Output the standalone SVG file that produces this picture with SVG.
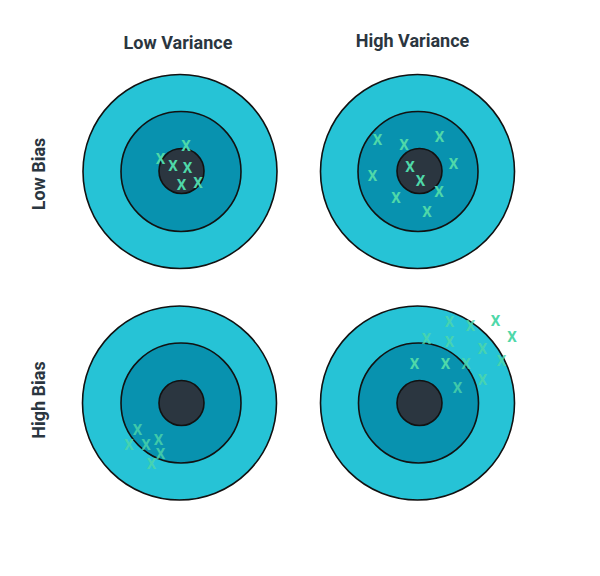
<svg xmlns="http://www.w3.org/2000/svg" width="600" height="576" viewBox="0 0 600 576">
<style>
.outer{fill:#26C3D6;stroke:#111;stroke-width:1.6}
.mid{fill:#0892AF;stroke:#111;stroke-width:1.6}
.inner{fill:#2B3640;stroke:#111;stroke-width:1.6}
.lbl{font-family:Roboto,"Liberation Sans",sans-serif;font-weight:700;font-size:18px;fill:#2B3640}
.x{font-family:Roboto,"Liberation Sans",sans-serif;font-weight:700;font-size:15px;fill:#4FD8A9;text-anchor:middle}
.f{opacity:0.78}
</style>
<rect width="600" height="576" fill="#fff"/>
<g id="labels">
<text class="lbl" x="178" y="49" text-anchor="middle">Low Variance</text>
<text class="lbl" x="412.5" y="47" text-anchor="middle">High Variance</text>
<text class="lbl" transform="translate(45,174) rotate(-90)" text-anchor="middle">Low Bias</text>
<text class="lbl" transform="translate(45,400) rotate(-90)" text-anchor="middle">High Bias</text>
</g>
<g id="target-low-bias-low-variance">
<circle class="outer" cx="180" cy="171.5" r="97"/>
<circle class="mid" cx="181" cy="171.5" r="60"/>
<circle class="inner" cx="181.5" cy="171" r="22.5"/>
<text class="x" x="186" y="150.5">X</text>
<text class="x" x="160.5" y="163.5">X</text>
<text class="x" x="173" y="170.5">X</text>
<text class="x" x="187.5" y="172.5">X</text>
<text class="x" x="181.5" y="189.5">X</text>
<text class="x" x="198" y="188">X</text>
</g>
<g id="target-low-bias-high-variance">
<circle class="outer" cx="417.5" cy="171.5" r="97"/>
<circle class="mid" cx="418" cy="171.5" r="60"/>
<circle class="inner" cx="419.5" cy="171" r="22.5"/>
<text class="x" x="377.5" y="144.5">X</text>
<text class="x" x="404" y="149.5">X</text>
<text class="x" x="439.5" y="141.5">X</text>
<text class="x" x="453.5" y="168.5">X</text>
<text class="x" x="372.5" y="180.5">X</text>
<text class="x" x="410" y="172">X</text>
<text class="x" x="420.5" y="185.5">X</text>
<text class="x" x="439" y="197">X</text>
<text class="x" x="396" y="202.5">X</text>
<text class="x" x="427" y="216.5">X</text>
</g>
<g id="target-high-bias-low-variance">
<circle class="outer" cx="179.5" cy="403" r="97"/>
<circle class="mid" cx="181" cy="403" r="60"/>
<circle class="inner" cx="181.5" cy="403" r="22.5"/>
<g class="f">
<text class="x" x="137.5" y="434.5">X</text>
<text class="x" x="129" y="450">X</text>
<text class="x" x="146" y="449.5">X</text>
<text class="x" x="158.5" y="444.5">X</text>
<text class="x" x="160.5" y="459">X</text>
<text class="x" x="151.5" y="468.5">X</text>
</g>
</g>
<g id="target-high-bias-high-variance">
<circle class="outer" cx="417.5" cy="403" r="97"/>
<circle class="mid" cx="418.5" cy="403" r="60"/>
<circle class="inner" cx="419.5" cy="403" r="22.5"/>
<g class="f">
<text class="x" x="449.5" y="326.5">X</text>
<text class="x" x="470.5" y="330.5">X</text>
<text class="x" x="426.5" y="343.5">X</text>
<text class="x" x="449.5" y="347">X</text>
<text class="x" x="482.5" y="353.5">X</text>
<text class="x" x="501.5" y="366">X</text>
<text class="x" x="466" y="368.5">X</text>
<text class="x" x="482.5" y="384.5">X</text>
<text class="x" x="457.5" y="392.5">X</text>
</g>
<text class="x" x="495.5" y="325.5">X</text>
<text class="x" x="512" y="341.5">X</text>
<text class="x" x="414.5" y="368.5">X</text>
<text class="x" x="445.5" y="369">X</text>
</g>
</svg>
